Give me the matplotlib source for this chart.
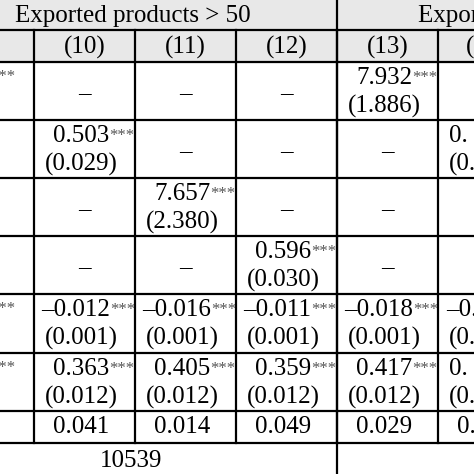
import matplotlib.pyplot as plt

plt.rcParams['font.family'] = ['Liberation Serif', 'DejaVu Serif']

# table content (visible part)
col_labels = ['(10)', '(11)', '(12)', '(13)', '(']
# per row: list of (coef, se) for columns 10..13 ; None = dash
coef = [
    [None, None, None, ('7.932', '(1.886)')],
    [('0.503', '(0.029)'), None, None, None],
    [None, ('7.657', '(2.380)'), None, None],
    [None, None, ('0.596', '(0.030)'), None],
    [('–0.012', '(0.001)'), ('–0.016', '(0.001)'), ('–0.011', '(0.001)'), ('–0.018', '(0.001)')],
    [('0.363', '(0.012)'), ('0.405', '(0.012)'), ('0.359', '(0.012)'), ('0.417', '(0.012)')],
]
# partially visible column 14
col14 = [None, ('0.', '(0.'), None, None, ('–0.', '(0.'), ('0.', '(0.')]
r2 = ['0.041', '0.014', '0.049', '0.029', '0.']
stars_left_rows = [0, 4, 5]
n_obs = '10539'
header = 'Exported products > 50'

fig = plt.figure(figsize=(4.74, 4.74), dpi=100)
ax = fig.add_axes([0, 0, 1, 1])
ax.set_xlim(0, 474)
ax.set_ylim(474, 0)
ax.axis('off')

vx = [34, 135, 236, 337, 438]
hy = [30, 62, 120, 178, 236, 294, 353, 411, 443]
row_top = hy[1:8]
fs = 18
sfs = 12
gray = '#e8e8e8'
lw = 1.6

ax.fill_between([0, 474], 0, 62, color=gray, zorder=0)
for y in hy:
    ax.plot([0, 474], [y, y], color='black', lw=lw)
for x in vx:
    ax.plot([x, x], [30, 443], color='black', lw=lw)
ax.plot([337, 337], [0, 474], color='black', lw=lw)

ax.text(15, 16, header, fontsize=fs, va='center', ha='left')
ax.text(418, 16, 'Exported products', fontsize=fs, va='center', ha='left', clip_on=True)
for i, lab in enumerate(col_labels):
    if i < 4:
        ax.text((vx[i] + vx[i + 1]) / 2, 47, lab, fontsize=fs, ha='center', va='center')
    else:
        ax.text(466, 47, lab, fontsize=fs, ha='left', va='center')


def cell(x0, y0, val):
    if val is None:
        ax.text(x0 + 50, y0 + 31, '–', fontsize=fs, ha='center', va='center')
        return
    c, s = val
    cx = x0 + (7 if c.startswith('–') else 19)
    t = ax.text(cx, y0 + 16, c, fontsize=fs, ha='left', va='center')
    if len(c) > 3:
        ax.annotate('***', xy=(1, 0.5), xycoords=t, xytext=(0, 0), textcoords='offset points',
                    fontsize=sfs, color='#555555', ha='left', va='center')
    ax.text(x0 + 11, y0 + 44, s, fontsize=fs, ha='left', va='center')


for r in range(6):
    y0 = row_top[r]
    for c in range(4):
        cell(vx[c], y0, coef[r][c])
    v = col14[r]
    if v is not None:
        c_, s_ = v
        ax.text(438 + (8 if c_.startswith('–') else 11), y0 + 16, c_, fontsize=fs, ha='left', va='center')
        ax.text(449, y0 + 44, s_, fontsize=fs, ha='left', va='center')
for r in stars_left_rows:
    ax.text(15, row_top[r] + 15, '***', fontsize=sfs, color='#555555', ha='right', va='center')

for c in range(5):
    ax.text(vx[c] + 19, 427, r2[c], fontsize=fs, ha='left', va='center')
ax.text(131, 461, n_obs, fontsize=fs, ha='center', va='center')

fig.savefig('out.png', dpi=100)
